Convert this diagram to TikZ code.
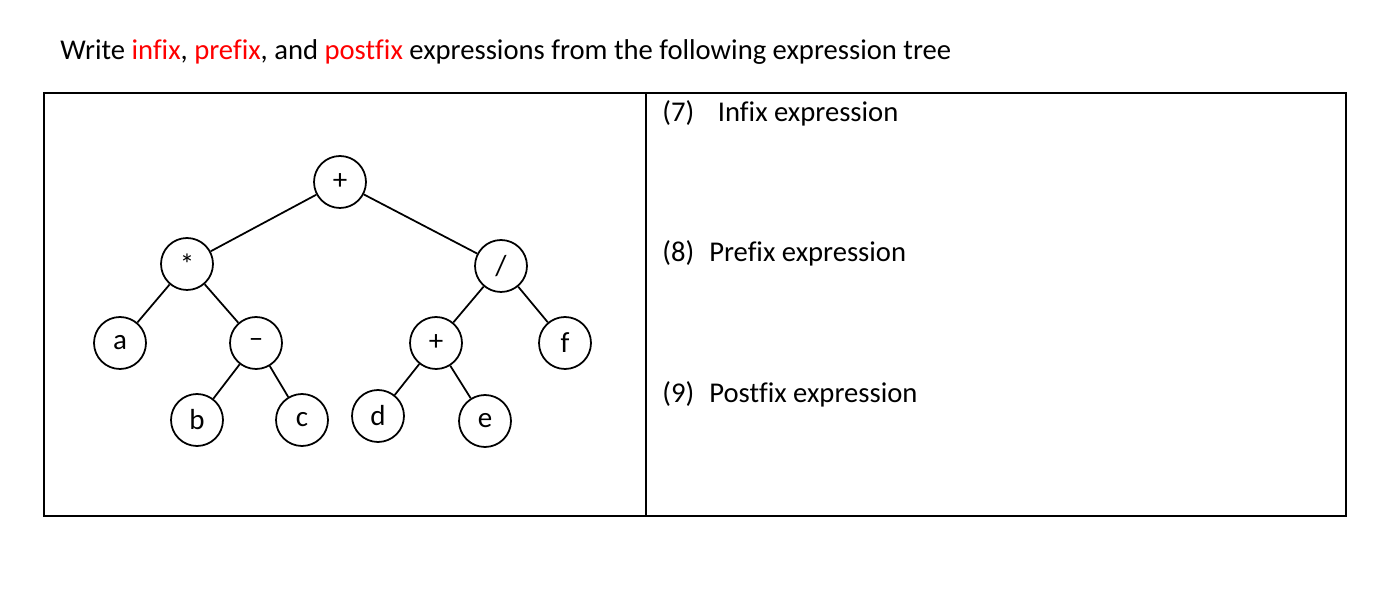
\documentclass[tikz,border=0pt]{standalone}
\usepackage{fontspec}
\setmainfont[Ligatures=NoCommon]{Carlito}
\begin{document}
\begin{tikzpicture}[x=0.02cm,y=-0.02cm,
  tn/.style={circle,draw,line width=1pt,minimum size=1.04cm,inner sep=0pt,font=\fontsize{16.5}{18}\selectfont},
  lbl/.style={anchor=west,inner sep=0pt,font=\fontsize{16.3}{18}\selectfont},
  edge/.style={line width=1pt}]
\useasboundingbox (0,0) rectangle (1390,604);
\node[lbl] (title) at (60,52) {Write \textcolor{red}{infix}, \textcolor{red}{prefix}, and \textcolor{red}{postfix} expressions from the following expression tree};
\draw[line width=0.8pt] (44,93) rectangle (1346,516);
\draw[line width=0.8pt] (646,93) -- (646,516);
\node[lbl] (l7) at (662,113) {(7)\hspace{0.6em} Infix expression};
\node[lbl] (l8) at (662,253) {(8)\hspace{0.3em} Prefix expression};
\node[lbl] (l9) at (662,394) {(9)\hspace{0.3em} Postfix expression};
\node[tn] (root) at (340,182) {+};
\node[tn] (mul) at (187,264) {*};
\node[tn] (div) at (501,266) {/};
\node[tn] (a) at (120,343) {a};
\node[tn] (sub) at (256,343) {--};
\node[tn] (add) at (436,343) {+};
\node[tn] (f) at (565,343) {f};
\node[tn] (b) at (197,420) {b};
\node[tn] (c) at (302,420) {c};
\node[tn] (d) at (378,416) {d};
\node[tn] (e) at (485,421) {e};
\draw[edge] (root)--(mul) (root)--(div) (mul)--(a) (mul)--(sub) (sub)--(b) (sub)--(c)
  (div)--(add) (div)--(f) (add)--(d) (add)--(e);
\end{tikzpicture}
\end{document}
